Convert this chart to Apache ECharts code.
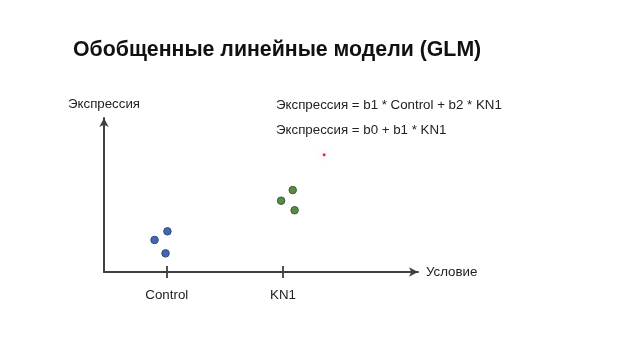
<!DOCTYPE html>
<html><head><meta charset="utf-8">
<script src="https://cdn.jsdelivr.net/npm/echarts@6/dist/echarts.min.js"></script>
<style>html,body{margin:0;padding:0;background:#fff}#c{width:640px;height:360px}</style>
</head><body><div id="c"></div>
<script>
const titleText = 'Обобщенные линейные модели (GLM)';
const equations = ['Экспрессия = b1 * Control + b2 * KN1', 'Экспрессия = b0 + b1 * KN1'];
const xName = 'Условие';
const yName = 'Экспрессия';
const categories = ['Control', 'KN1'];
const categoryPos = [20, 57];
const controlPoints = [[20.2, 26.4], [16.1, 20.8], [19.6, 12.1]];
const kn1Points = [[60.1, 53.2], [56.4, 46.3], [60.7, 40.1]];
const redPoint = [[70.1, 76.2]];

const font = '"Liberation Sans", Arial, sans-serif';
const chart = echarts.init(document.getElementById('c'));
const labelFor = v => { const i = categoryPos.indexOf(v); return i >= 0 ? categories[i] : ''; };
chart.setOption({
  animation: false,
  backgroundColor: '#fff',
  title: { text: titleText, left: 68, top: 35, textStyle: { fontFamily: font, fontSize: 21.3, fontWeight: 'bold', color: '#111' } },
  graphic: equations.map((t, i) => ({
    type: 'text', left: 276, top: 99 + i * 25,
    style: { text: t, font: '13.3px ' + font, fill: '#222' }
  })),
  grid: { left: 104, right: 222, top: 118, bottom: 88 },
  xAxis: [{
    type: 'value', min: 0, max: 100,
    name: xName, nameLocation: 'end', nameGap: 8,
    nameTextStyle: { fontFamily: font, fontSize: 13.3, color: '#222', padding: [7, 0, 0, 0] },
    axisLine: { show: true, lineStyle: { color: '#404040', width: 2 }, symbol: ['none', 'arrow'], symbolSize: [7, 9] },
    axisTick: { show: true, customValues: categoryPos, length: 6, lineStyle: { color: '#404040', width: 1.8 } },
    axisLabel: { customValues: categoryPos, formatter: labelFor, margin: 17, fontFamily: font, fontSize: 13.3, color: '#222' },
    splitLine: { show: false }
  }, {
    type: 'value', min: 0, max: 100, position: 'bottom',
    axisLine: { show: false },
    axisTick: { show: true, inside: true, customValues: categoryPos, length: 6, lineStyle: { color: '#404040', width: 1.8 } },
    axisLabel: { show: false },
    splitLine: { show: false }
  }],
  yAxis: {
    type: 'value', min: 0, max: 100,
    name: yName, nameLocation: 'end', nameGap: 7,
    nameTextStyle: { fontFamily: font, fontSize: 13.3, color: '#222', align: 'center' },
    axisLine: { show: true, lineStyle: { color: '#404040', width: 2 }, symbol: ['none', 'arrow'], symbolSize: [7, 9] },
    axisTick: { show: false }, axisLabel: { show: false }, splitLine: { show: false }
  },
  series: [
    { type: 'scatter', data: controlPoints, symbolSize: 7.5, itemStyle: { color: '#4468b0', borderColor: '#2b4a85', borderWidth: 1, opacity: 1 } },
    { type: 'scatter', data: kn1Points, symbolSize: 7.5, itemStyle: { color: '#5a8a4a', borderColor: '#3a5e2e', borderWidth: 1, opacity: 1 } },
    { type: 'scatter', data: redPoint, symbolSize: 3, itemStyle: { color: '#d8304a', shadowBlur: 6, shadowColor: 'rgba(240,80,110,0.6)', opacity: 1 } }
  ]
});
</script></body></html>
